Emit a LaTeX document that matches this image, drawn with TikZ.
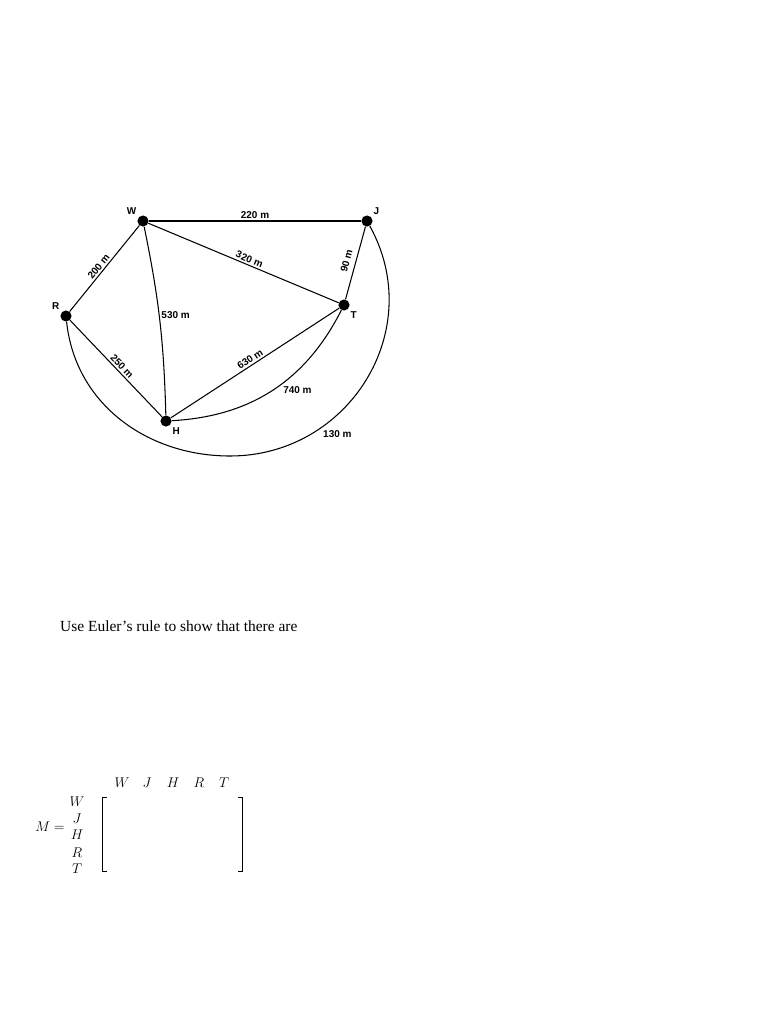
\documentclass[tikz,border=0pt]{standalone}
\usepackage{fontspec}
\setmainfont{Liberation Serif}
\newfontfamily\graphfont{Liberation Sans}

\begin{document}
\begin{tikzpicture}[x=0.03cm, y=-0.03cm,
    dot/.style={circle, fill=black, inner sep=0pt, minimum size=9.5pt},
    edge/.style={black, line width=0.9pt},
    lbl/.style={font=\graphfont\bfseries\fontsize{8.5}{10}\selectfont, inner sep=2pt},
    dist/.style={font=\graphfont\bfseries\fontsize{8.5}{10}\selectfont, inner sep=1.5pt},
    mat/.style={font=\fontsize{12.5}{14}\selectfont, inner sep=0pt}]
        \useasboundingbox (0,0) rectangle (768,1024);

        % towns
        \node[dot, label={[lbl]above left:W}] (W) at (143,221) {};
        \node[dot, label={[lbl]above right:J}] (J) at (367,221) {};
        \node[dot, label={[lbl]above left:R}] (R) at (66,316) {};
        \node[dot, label={[lbl]below right:T}] (T) at (344,305) {};
        \node[dot, label={[lbl]below right:H}] (H) at (166,421) {};
        \coordinate (B) at (230,456);

        % roads
        \draw[edge] (W) -- node[dist, above, pos=0.5] {220 m} (J);
        \draw[edge] (W) -- node[dist, above, sloped, pos=0.52] {320 m} (T);
        \draw[edge] (T) -- node[dist, above=3pt, sloped, pos=0.5] {90 m} (J);
        \draw[edge] (R) -- node[dist, above, sloped, pos=0.48] {200 m} (W);
        \draw[edge] (R) -- node[dist, above, sloped, pos=0.52] {250 m} (H);
        \draw[edge] (W) to[bend left=5] node[dist, right, pos=0.47] {530 m} (H);
        \draw[edge] (H) -- node[dist, above, sloped, pos=0.49] {630 m} (T);
        \draw[edge] (H) to[bend right=30] node[dist, below right, pos=0.55] {740 m} (T);
        \draw[edge] (R) to[out=-84, in=180] (B)
            to[out=0, in=-61, looseness=1.13] node[dist, below right, pos=0.29] {130 m} (J);

        % question
        \node[anchor=west, font=\fontsize{13.2}{15}\selectfont, inner sep=0pt] (q) at (60,626) {Use Euler’s rule to show that there are};

        % matrix
        \node[mat] (M) at (50,827) {$M =$};
        \foreach \n/\y in {W/802, J/819, H/835, R/853, T/869}
            \node[mat] (row\n) at (77,\y) {$\n$};
        \foreach \n/\x in {W/122, J/147, H/173, R/199, T/224}
            \node[mat] (col\n) at (\x,783) {$\n$};
        \draw[line width=0.6pt] (107,797) -- (102,797) -- (102,871) -- (107,871);
        \draw[line width=0.6pt] (238,797) -- (242,797) -- (242,871) -- (238,871);
    \end{tikzpicture}
\end{document}
